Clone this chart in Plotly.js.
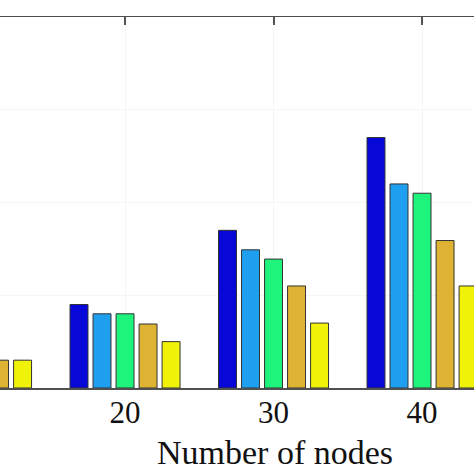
<!DOCTYPE html>
<html>
<head>
<meta charset="utf-8">
<script src="https://cdn.plot.ly/plotly-3.0.1.min.js"></script>
<style>
  html, body { margin: 0; padding: 0; background: #fff; }
  #chart { width: 474px; height: 474px; }
</style>
</head>
<body>
<div id="chart"></div>
<script>
// values (the y tick labels are cropped away)
const nodes = [10, 20, 30, 40];
const series1 = [null, 0.9, 1.7, 2.7];
const series2 = [null, 0.8, 1.49, 2.2];
const series3 = [null, 0.8, 1.39, 2.1];
const series4 = [0.3, 0.69, 1.1, 1.59];
const series5 = [0.3, 0.5, 0.7, 1.1];
const seriesNames = ['Series 1', 'Series 2', 'Series 3', 'Series 4', 'Series 5'];
const colors = ['#0707d8', '#1e9ff0', '#1ef37c', '#deb232', '#f0f208'];

const config = {
    displayModeBar: false,
    staticPlot: true
};

function make_bar(values, i) {
    return {
        x: nodes,
        y: values,
        type: 'bar',
        name: seriesNames[i],
        marker: {color: colors[i], line: {color: '#333', width: 1}},
        showlegend: false
    };
}

const traces = [series1, series2, series3, series4, series5].map(make_bar);

const layout = {
    width: 474,
    height: 474,
    margin: {l: 0, r: 0, t: 17, b: 86},
    paper_bgcolor: '#fff',
    plot_bgcolor: '#fff',
    barmode: 'group',
    bargap: 0.225,
    bargroupgap: 0.22,
    font: {family: '"Liberation Serif", "Times New Roman", serif', color: '#111', size: 32},
    xaxis: {
        range: [11.58, 43.5],
        tickvals: nodes,
        ticktext: nodes.map(String),
        ticks: 'inside',
        ticklen: 8,
        tickwidth: 2,
        tickcolor: '#555',
        showline: true,
        linecolor: '#505050',
        linewidth: 1.5,
        mirror: 'ticks',
        showgrid: true,
        gridcolor: '#f5f5f5',
        zeroline: false,
        layer: 'below traces',
        ticklabelstandoff: -4,
        tickfont: {size: 31}
    },
    yaxis: {
        range: [0, 4],
        dtick: 1,
        showticklabels: false,
        showline: false,
        showgrid: true,
        gridcolor: '#f5f5f5',
        zeroline: false,
        layer: 'below traces'
    },
    annotations: [{
        text: 'Number of nodes',
        xref: 'paper', yref: 'paper',
        x: 0.58, y: 0,
        yshift: -64,
        xanchor: 'center', yanchor: 'middle',
        showarrow: false,
        font: {size: 34, color: '#111'}
    }]
};

Plotly.newPlot('chart', traces, layout, config);
</script>
</body>
</html>
